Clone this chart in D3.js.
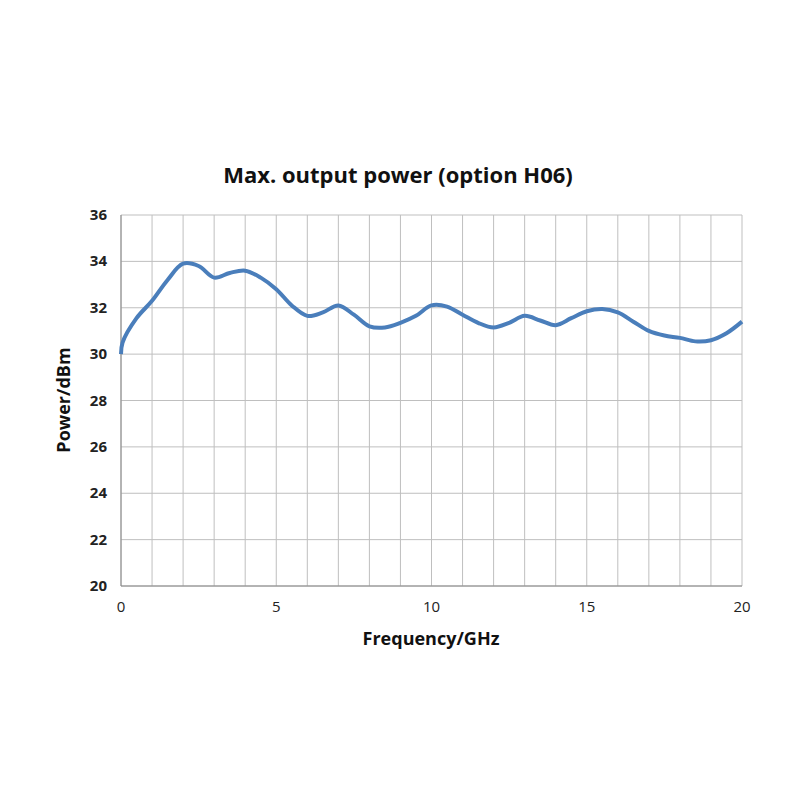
<!DOCTYPE html>
<html><head><meta charset="utf-8">
<script src="https://cdn.jsdelivr.net/npm/d3@7"></script>
<style>body{margin:0;background:#fff}text{font-family:"Open Sans","DejaVu Sans",sans-serif}</style>
</head><body><svg id="c" width="800" height="800"></svg>
<script>
const freq = [0,0.05,0.5,1,1.5,2,2.5,3,3.5,4,4.5,5,5.5,6,6.5,7,7.5,8,8.5,9,9.5,10,10.5,11,11.5,12,12.5,13,13.5,14,14.5,15,15.5,16,16.5,17,17.5,18,18.5,19,19.5,20];
const power = [30.0,30.5,31.55,32.3,33.2,33.9,33.8,33.3,33.5,33.6,33.3,32.8,32.1,31.65,31.8,32.1,31.7,31.2,31.15,31.35,31.65,32.1,32.05,31.7,31.35,31.15,31.35,31.65,31.45,31.25,31.55,31.85,31.95,31.8,31.4,31.0,30.8,30.7,30.55,30.6,30.9,31.4];
const xTicks = [0,5,10,15,20];
const yTicks = [20,22,24,26,28,30,32,34,36];

const svg = d3.select("#c");
const x = d3.scaleLinear().domain([0,20]).range([121,742]);
const y = d3.scaleLinear().domain([20,36]).range([586,215]);
const g = svg.append("g");
g.selectAll(".vg").data(d3.range(0,21)).join("line")
  .attr("x1",d=>x(d)).attr("x2",d=>x(d)).attr("y1",y(20)).attr("y2",y(36))
  .attr("stroke","#bfbfbf").attr("stroke-width",1);
g.selectAll(".hg").data(yTicks).join("line")
  .attr("x1",x(0)).attr("x2",x(20)).attr("y1",d=>y(d)).attr("y2",d=>y(d))
  .attr("stroke","#bfbfbf").attr("stroke-width",1);
g.append("line").attr("x1",x(0)).attr("x2",x(0)).attr("y1",y(20)).attr("y2",y(36)).attr("stroke","#888");
g.append("line").attr("x1",x(0)).attr("x2",x(20)).attr("y1",y(20)).attr("y2",y(20)).attr("stroke","#888");
g.selectAll(".xt").data(xTicks).join("text").attr("x",d=>x(d)).attr("y",y(20)+26)
  .attr("text-anchor","middle").attr("font-size",15).attr("fill","#222").text(d=>d);
g.selectAll(".yt").data(yTicks).join("text").attr("x",x(0)-14).attr("y",d=>y(d)+5)
  .attr("text-anchor","end").attr("font-size",15).attr("font-weight","bold").attr("fill","#222").text(d=>d);
svg.append("path").datum(freq.map((f,i)=>[f,power[i]]))
  .attr("d",d3.line().x(d=>x(d[0])).y(d=>y(d[1])).curve(d3.curveCatmullRom))
  .attr("fill","none").attr("stroke","#4a7ebb").attr("stroke-width",4);
svg.append("text").attr("x",398).attr("y",183).attr("text-anchor","middle")
  .attr("font-size",22).attr("font-weight","bold").attr("fill","#111").text("Max. output power (option H06)");
svg.append("text").attr("x",431).attr("y",645).attr("text-anchor","middle")
  .attr("font-size",18).attr("font-weight","bold").attr("fill","#111").text("Frequency/GHz");
svg.append("text").attr("transform","translate(70,400) rotate(-90)").attr("text-anchor","middle")
  .attr("font-size",18).attr("font-weight","bold").attr("fill","#111").text("Power/dBm");
</script></body></html>
